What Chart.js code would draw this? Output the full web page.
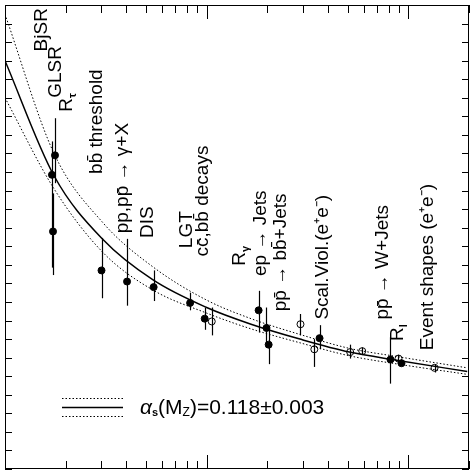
<!DOCTYPE html>
<html>
<head>
<meta charset="utf-8">
<script src="https://cdn.jsdelivr.net/npm/chart.js@4"></script>
<style>
  html, body { margin: 0; padding: 0; background: #fff; }
  #wrap { width: 474px; height: 474px; }
</style>
</head>
<body>
<div id="wrap"><canvas id="chart"></canvas></div>
<script>
// running coupling curves (Q in GeV, alpha_s)
const curveQ     = [1, 1.75, 3.07, 5.4, 10, 16.6, 29, 51, 89, 196];
const curveMid   = [0.44, 0.316, 0.247, 0.204, 0.174, 0.156, 0.140, 0.126, 0.117, 0.105];
const curveUpper = [0.49, 0.34, 0.265, 0.218, 0.182, 0.162, 0.145, 0.130, 0.121, 0.109];
const curveLower = [0.40, 0.302, 0.233, 0.193, 0.168, 0.151, 0.136, 0.122, 0.113, 0.102];

// measurements
const measQ    = [1.73, 1.71, 1.77, 3.01, 4.03, 5.46, 8.28, 9.78, 10.6, 18.1, 19.8, 20.3, 29.2, 34.2, 36.3, 51.5, 59.1, 81.6, 89.4, 92.5, 135];
const measVal  = [0.256, 0.317, 0.338, 0.214, 0.202, 0.196, 0.179, 0.162, 0.159, 0.171, 0.152, 0.134, 0.156, 0.129, 0.141, 0.126, 0.127, 0.118, 0.119, 0.114, 0.109];
const measLo   = [0.209, 0.217, 0.308, 0.184, 0.176, 0.181, 0.171, 0.150, 0.144, 0.147, 0.131, 0.113, 0.144, 0.110, 0.129, 0.119, 0.123, 0.092, 0.113, 0.111, 0.104];
const measHi   = [0.297, 0.353, 0.378, 0.249, 0.248, 0.214, 0.190, 0.174, 0.174, 0.192, 0.174, 0.151, 0.167, 0.140, 0.155, 0.134, 0.131, 0.142, 0.123, 0.118, 0.113];
const measOpen = [false, false, false, false, false, false, false, false, true, false, false, false, true, true, false, true, true, false, true, false, true];

// process labels: main text, subscript, Q and alpha_s at the start of the rotated text
const labelText = ['BjSR', 'GLSR', 'R', 'bb̄ threshold', 'pp,pp̄ → γ+X', 'DIS', 'LGT', 'cc̄,bb̄ decays',
                   'R', 'ep → Jets', 'pp̄ → bb̄+Jets', 'Scal.Viol.(e⁺e⁻)', 'pp̄ → W+Jets', 'R', 'Event shapes (e⁺e⁻)'];
const labelSub  = ['', '', 'τ', '', '', '', '', '', 'γ', '', '', '', '', 'l', ''];
const labelQ    = [1.52, 1.79, 2.02, 2.84, 3.85, 5.1, 8.0, 9.6, 14.6, 18.5, 23.3, 37.5, 75, 89, 125];
const labelVal  = [0.45, 0.4, 0.385, 0.318, 0.254, 0.249, 0.238, 0.229, 0.219, 0.208, 0.17, 0.161, 0.161, 0.138, 0.128];

const yTicks = [];
for (let i = 0; i <= 25; i++) yTicks.push(i * 0.02);
const xTicks = [2, 3, 4, 5, 6, 7, 8, 9, 10, 20, 30, 40, 50, 60, 70, 80, 90, 100, 200];

const pts = (xs, ys) => xs.map((x, i) => ({ x: x, y: ys[i] }));
const FONT = '"Liberation Sans", Arial, sans-serif';

const decor = {
  id: 'decor',
  afterDatasetsDraw(chart) {
    const ctx = chart.ctx, a = chart.chartArea;
    const xs = chart.scales.x, ys = chart.scales.y;
    ctx.save();
    ctx.strokeStyle = '#000';
    ctx.lineWidth = 1.2;
    // error bars
    measQ.forEach((q, i) => {
      const px = Math.round(xs.getPixelForValue(q)) + 0.5;
      ctx.beginPath();
      ctx.moveTo(px, ys.getPixelForValue(measLo[i]));
      ctx.lineTo(px, ys.getPixelForValue(measHi[i]));
      ctx.stroke();
    });
    // frame and ticks
    ctx.lineWidth = 1;
    ctx.strokeRect(a.left + 0.5, a.top + 0.5, a.right - a.left - 1, a.bottom - a.top - 1);
    ctx.beginPath();
    yTicks.forEach(v => {
      const py = Math.round(ys.getPixelForValue(v)) + 0.5;
      ctx.moveTo(a.left, py); ctx.lineTo(a.left + 7, py);
      ctx.moveTo(a.right, py); ctx.lineTo(a.right - 7, py);
    });
    xTicks.forEach(v => {
      const px = Math.round(xs.getPixelForValue(v)) + 0.5;
      const len = (v === 10 || v === 100) ? 14 : 8;
      ctx.moveTo(px, a.bottom); ctx.lineTo(px, a.bottom - len);
      ctx.moveTo(px, a.top); ctx.lineTo(px, a.top + len);
    });
    ctx.stroke();
    // labels
    ctx.fillStyle = '#000';
    ctx.textBaseline = 'middle';
    labelText.forEach((t, i) => {
      ctx.save();
      ctx.translate(xs.getPixelForValue(labelQ[i]), ys.getPixelForValue(labelVal[i]));
      ctx.rotate(-Math.PI / 2);
      ctx.font = '19px ' + FONT;
      ctx.fillText(t, 0, 0);
      if (labelSub[i]) {
        const w = ctx.measureText(t).width;
        ctx.font = 'bold 11px ' + FONT;
        ctx.fillText(labelSub[i], w, 6);
      }
      ctx.restore();
    });
    // legend
    const lx0 = 62, lx1 = 123;
    ctx.beginPath();
    ctx.lineWidth = 1.5;
    ctx.moveTo(lx0, 407.5); ctx.lineTo(lx1, 407.5);
    ctx.stroke();
    ctx.setLineDash([1.5, 2]);
    ctx.lineWidth = 1;
    ctx.beginPath();
    ctx.moveTo(lx0, 398.5); ctx.lineTo(lx1, 398.5);
    ctx.moveTo(lx0, 416.5); ctx.lineTo(lx1, 416.5);
    ctx.stroke();
    ctx.setLineDash([]);
    let x = 140;
    const put = (txt, font, dy) => { ctx.font = font; ctx.fillText(txt, x, 408 + dy); x += ctx.measureText(txt).width; };
    put('α', 'italic 21px ' + FONT, 0);
    put('s', 'bold 11px ' + FONT, 5);
    put('(M', '21px ' + FONT, 0);
    put('Z', '12px ' + FONT, 5);
    put(')=0.118±0.003', '21px ' + FONT, 0);
    ctx.restore();
  }
};

new Chart(document.getElementById('chart'), {
  type: 'scatter',
  data: {
    datasets: [
      { type: 'line', data: pts(curveQ, curveMid), borderColor: '#000', borderWidth: 1.5, pointRadius: 0, cubicInterpolationMode: 'monotone' },
      { type: 'line', data: pts(curveQ, curveUpper), borderColor: '#000', borderWidth: 1, borderDash: [1.5, 2], pointRadius: 0, cubicInterpolationMode: 'monotone' },
      { type: 'line', data: pts(curveQ, curveLower), borderColor: '#000', borderWidth: 1, borderDash: [1.5, 2], pointRadius: 0, cubicInterpolationMode: 'monotone' },
      {
        data: pts(measQ, measVal),
        pointRadius: 3.5,
        borderColor: '#000',
        borderWidth: 1,
        backgroundColor: measOpen.map(o => o ? '#fff' : '#000')
      }
    ]
  },
  options: {
    responsive: true,
    maintainAspectRatio: false,
    animation: false,
    layout: { padding: { left: 0, top: 0, right: 3, bottom: 4 } },
    scales: {
      x: { type: 'logarithmic', min: 1, max: 200, display: false },
      y: { min: 0, max: 0.5, display: false }
    },
    plugins: { legend: { display: false }, tooltip: { enabled: false } }
  },
  plugins: [decor]
});
</script>
</body>
</html>
